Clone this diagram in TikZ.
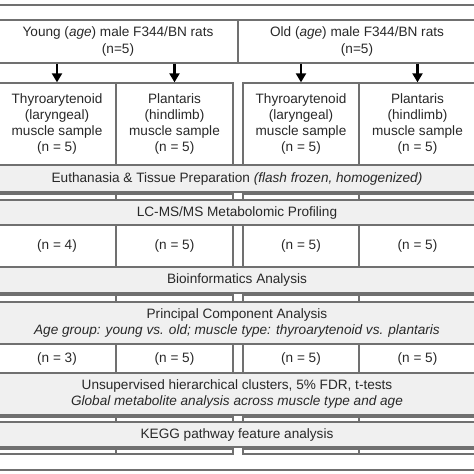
\documentclass[tikz,border=0pt]{standalone}
\usepackage{fontspec}
\setmainfont{Liberation Sans}
\usepackage{tikz}
\usetikzlibrary{arrows.meta}
\usetikzlibrary{positioning}
\definecolor{linegray}{RGB}{112,112,112}
\definecolor{bandfill}{RGB}{240,240,240}
\definecolor{textgray}{RGB}{40,40,40}
\tikzset{
    box/.style={
        draw=linegray,
        line width=1.3pt,
        inner sep=0pt,
        align=center,
        text=textgray,
        font=\fontsize{13.6}{16.3}\selectfont,
    },
    band/.style={box, fill=bandfill, minimum width=478pt},
    arr/.style={-{Triangle[length=9pt,width=10pt]}, line width=2.2pt, black},
}
% one row of empty column cells between two bands
\newcommand{\gaprow}[3]{%
    \foreach \i/\cx/\w in {1/57/118,2/174.5/117,3/301/116,4/417.5/117}
        \node[box, minimum width=\w pt, minimum height=#3pt] (#1\i) at (\cx,#2) {};
}
\begin{document}
\begin{tikzpicture}[x=1pt,y=-1pt]
    \useasboundingbox (0,0) rectangle (474,474);
    \draw[linegray, line width=1.3pt] (-2,5) rectangle (476,470);

    % animal groups
    \node[box, minimum width=240pt, minimum height=43pt] (young) at (118,41.5)
        {Young (\textit{age}) male F344/BN rats\\(n=5)};
    \node[box, minimum width=238pt, minimum height=43pt] (old) at (357,41.5)
        {Old (\textit{age}) male F344/BN rats\\(n=5)};

    % muscle samples
    \node[box, minimum width=118pt, minimum height=82pt] (yt) at (57,124)
        {Thyroarytenoid\\(laryngeal)\\muscle sample\\(n = 5)};
    \node[box, minimum width=117pt, minimum height=82pt] (yp) at (174.5,124)
        {Plantaris\\(hindlimb)\\muscle sample\\(n = 5)};
    \node[box, minimum width=116pt, minimum height=82pt] (ot) at (301,124)
        {Thyroarytenoid\\(laryngeal)\\muscle sample\\(n = 5)};
    \node[box, minimum width=117pt, minimum height=82pt] (op) at (417.5,124)
        {Plantaris\\(hindlimb)\\muscle sample\\(n = 5)};

    \draw[arr] (young.south -| yt.north) -- (yt.north);
    \draw[arr] (young.south -| yp.north) -- (yp.north);
    \draw[arr] (old.south -| ot.north) -- (ot.north);
    \draw[arr] (old.south -| op.north) -- (op.north);

    % empty cells between the bands
    \gaprow{ga}{197}{6}
    \gaprow{gb}{298.5}{7}
    \gaprow{gc}{419.5}{5}
    \gaprow{gd}{451.5}{5}

    % processing steps
    \node[band, minimum height=27pt] (prep) at (237,178.5)
        {Euthanasia \& Tissue Preparation \textit{(flash frozen, homogenized)}};
    \node[band, minimum height=25pt] (lcms) at (237,212.5) {LC-MS/MS Metabolomic Profiling};
    \foreach \i/\cx/\w/\t in {1/57/118/{(n = 4)},2/174.5/117/{(n = 5)},3/301/116/{(n = 5)},4/417.5/117/{(n = 5)}}
        \node[box, minimum width=\w pt, minimum height=42pt] (na\i) at (\cx,246) {\t};
    \node[band, minimum height=26pt] (bioinf) at (237,280) {Bioinformatics Analysis};
    \node[band, minimum height=42pt] (pca) at (237,323)
        {Principal Component Analysis\\\textit{Age group: young vs. old; muscle type: thyroarytenoid vs. plantaris}};
    \foreach \i/\cx/\w/\t in {1/57/118/{(n = 3)},2/174.5/117/{(n = 5)},3/301/116/{(n = 5)},4/417.5/117/{(n = 5)}}
        \node[box, minimum width=\w pt, minimum height=29pt] (nb\i) at (\cx,358.5) {\t};
    \node[band, minimum height=42pt] (clust) at (237,394)
        {Unsupervised hierarchical clusters, 5\% FDR, t-tests\\\textit{Global metabolite analysis across muscle type and age}};
    \node[band, minimum height=25pt] (kegg) at (237,434.5) {KEGG pathway feature analysis};
\end{tikzpicture}
\end{document}
